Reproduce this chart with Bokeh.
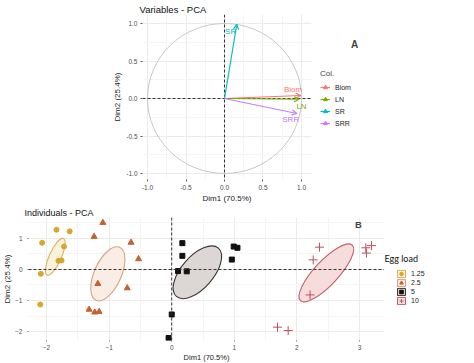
import math
from bokeh.plotting import figure
from bokeh.models import (Arrow, OpenHead, Label, Legend, LegendItem, Span,
                          FixedTicker, PrintfTickFormatter, Range1d)
from bokeh.layouts import row
from bokeh.embed import file_html
from bokeh.resources import INLINE

# ---------------- Data: Variables - PCA ----------------
var_names = ["Biom", "LN", "SR", "SRR"]
var_dim1 = [0.99, 0.97, 0.16, 0.94]
var_dim2 = [0.04, -0.01, 0.99, -0.20]
var_colors = ["#F8766D", "#7CAE00", "#00BFC4", "#C77CFF"]
lab_dim1 = [0.89, 1.00, 0.08, 0.86]
lab_dim2 = [0.12, -0.11, 0.89, -0.28]

# ---------------- Data: Individuals - PCA ----------------
egg_loads = ["1.25", "2.5", "5", "10"]
g125_x = [-2.07, -1.84, -1.63, -1.72, -1.81, -1.76, -2.09, -2.10]
g125_y = [0.86, 1.28, 1.23, 0.74, 0.28, 0.29, -0.14, -1.13]
g25_x = [-1.10, -1.24, -0.65, -0.53, -1.18, -0.71, -1.32, -1.23, -1.16]
g25_y = [1.51, 1.06, 0.87, 0.34, -0.46, -0.60, -1.29, -1.38, -1.36]
g5_x = [0.10, 0.17, 0.17, 0.24, 0.00, -0.05, 0.99, 1.05, 0.96]
g5_y = [-0.05, 0.85, 0.44, -0.06, -1.45, -2.21, 0.74, 0.70, 0.32]
g10_x = [2.36, 2.26, 2.21, 3.10, 3.19, 3.11, 1.69, 1.86]
g10_y = [0.72, 0.31, -0.82, 0.70, 0.77, 0.53, -1.86, -1.97]
# confidence ellipses: centre (data), axes (px), angle (deg)
ell_cx = [-1.86, -1.02, 0.41, 2.47]
ell_cy = [0.41, -0.14, -0.09, -0.11]
ell_major = [40, 58, 64, 76]
ell_minor = [12, 27, 32, 24]
ell_angle = [66, 66, 49, 47]

FONT = "Liberation Sans"
TICK_C = "#4D4D4D"


def style_axes(p, xt, xminor, yt, yminor, fmt=None, tick_out=2, std=1):
    p.xaxis.ticker = FixedTicker(ticks=xt, minor_ticks=xminor)
    p.yaxis.ticker = FixedTicker(ticks=yt, minor_ticks=yminor)
    if fmt:
        p.xaxis.formatter = PrintfTickFormatter(format=fmt)
        p.yaxis.formatter = PrintfTickFormatter(format=fmt)
    for ax in (p.xaxis, p.yaxis):
        ax.axis_line_color = None
        ax.major_tick_line_color = "#555555"
        ax.major_tick_out = tick_out
        ax.major_tick_in = 0
        ax.minor_tick_line_color = None
        ax.major_label_text_font_size = "6.5px"
        ax.major_label_text_color = TICK_C
        ax.major_label_text_font = FONT
        ax.major_label_standoff = std
        ax.axis_label_text_font_size = "8px"
        ax.axis_label_text_font_style = "normal"
        ax.axis_label_text_font = FONT
        ax.axis_label_text_color = "#222222"
        ax.axis_label_standoff = std
    p.xgrid.grid_line_color = "#EBEBEB"
    p.ygrid.grid_line_color = "#EBEBEB"
    p.xgrid.minor_grid_line_color = "#F5F5F5"
    p.ygrid.minor_grid_line_color = "#F5F5F5"
    p.outline_line_color = None


def side_fig(fw, fh, top, bottom, title_size):
    # legend strip; its ranges lie away from the data so only the legend shows
    q = figure(frame_width=fw, frame_height=fh, output_backend="svg",
               toolbar_location=None, x_range=Range1d(100, 101),
               y_range=Range1d(100, 101), x_axis_location=None,
               y_axis_location=None, min_border_left=0, min_border_right=0,
               min_border_top=top, min_border_bottom=bottom, title=" ")
    q.title.text_font_size = title_size
    q.title.standoff = 0
    q.outline_line_color = None
    q.grid.visible = False
    return q


# ---------------- Top panel ----------------
p1 = figure(frame_width=169, frame_height=165, output_backend="svg",
            toolbar_location=None,
            x_range=Range1d(-1.065, 1.13), y_range=Range1d(-1.08, 1.12),
            min_border_left=142, min_border_right=8, min_border_top=14,
            min_border_bottom=20, x_axis_label="Dim1 (70.5%)",
            y_axis_label="Dim2 (25.4%)", title="Variables - PCA")
p1.title.text_font_size = "9.5px"
p1.title.text_font = FONT
p1.title.text_font_style = "normal"
p1.title.text_color = "#111111"
p1.title.standoff = 0
p1.title.offset = -3
style_axes(p1, [-1, -0.5, 0, 0.5, 1], [-0.75, -0.25, 0.25, 0.75],
           [-1, -0.5, 0, 0.5, 1], [-0.75, -0.25, 0.25, 0.75], "%.1f",
           tick_out=2, std=1)
p1.ellipse(x=[0], y=[0], width=[2], height=[2], fill_color=None,
           line_color="#C8C8C8", line_width=1)
p1.add_layout(Span(location=0, dimension="width", line_color="#333333",
                   line_dash="3 2", line_width=1))
p1.add_layout(Span(location=0, dimension="height", line_color="#333333",
                   line_dash="3 2", line_width=1))

p1r = side_fig(146, 165, 14, 20, "9.5px")
items = []
for name, x, y, c, lx, ly in zip(var_names, var_dim1, var_dim2, var_colors,
                                 lab_dim1, lab_dim2):
    p1.add_layout(Arrow(x_start=0, y_start=0, x_end=x, y_end=y, line_color=c,
                        line_width=1.2,
                        end=OpenHead(size=5, line_color=c, line_width=1.2)))
    p1.text(x=[lx], y=[ly], text=[name], text_color=c, text_font_size="8px",
            text_align="center", text_baseline="middle",
            text_font={"value": FONT})
    r1 = p1r.line(x=[0, x], y=[0, y], line_color=c, line_width=1.2)
    r2 = p1r.scatter(x=[x], y=[y], marker="triangle", angle=-math.pi / 2,
                     size=5, fill_color=c, line_color=c)
    items.append(LegendItem(label=name, renderers=[r1, r2]))
leg1 = Legend(items=items, title="Col.", location=(1, 50),
              title_text_font_size="8px", title_text_font_style="normal",
              title_text_font=FONT, label_text_font=FONT,
              label_text_font_size="7px", label_text_color="#222222",
              glyph_width=10, glyph_height=12, label_height=12,
              spacing=0, padding=2, margin=0, label_standoff=5,
              title_standoff=3, border_line_color=None,
              background_fill_alpha=0)
p1r.add_layout(leg1)
p1r.add_layout(Label(x=35, y=135, x_units="screen", y_units="screen",
                     text="A", text_font_size="10px", text_font_style="bold",
                     text_font=FONT, text_align="center",
                     text_baseline="middle"))

# ---------------- Bottom panel ----------------
p2 = figure(frame_width=356, frame_height=123, output_backend="svg",
            toolbar_location=None,
            x_range=Range1d(-2.288, 3.399), y_range=Range1d(-2.29, 1.677),
            min_border_left=20, min_border_right=0, min_border_top=11,
            min_border_bottom=16, x_axis_label="Dim1 (70.5%)",
            y_axis_label="Dim2 (25.4%)", title="Individuals - PCA")
p2.title.text_font_size = "9px"
p2.title.text_font = FONT
p2.title.text_font_style = "normal"
p2.title.text_color = "#111111"
p2.title.standoff = 0
p2.title.offset = -4
style_axes(p2, [-2, -1, 0, 1, 2, 3], [-1.5, -0.5, 0.5, 1.5, 2.5],
           [-2, -1, 0, 1], [-1.5, -0.5, 0.5, 1.5], tick_out=1, std=0)
p2.yaxis.major_label_standoff = 2
p2.xaxis.axis_label_text_font_size = "7.5px"
ell_fill = ["#FBF1D8", "#FAEBE3", "#D6D0CC", "#F6D8D8"]
ell_line = ["#DDB062", "#D9A07F", "#3E3232", "#C06068"]
ell_alpha = [0.9, 0.9, 0.85, 0.9]
for i in range(4):
    p2.ellipse(x=[ell_cx[i]], y=[ell_cy[i]], width=[ell_major[i]],
               height=[ell_minor[i]], width_units="screen",
               height_units="screen", angle=[math.radians(ell_angle[i])],
               fill_color=ell_fill[i], fill_alpha=ell_alpha[i],
               line_color=ell_line[i], line_width=1.1)
p2.add_layout(Span(location=0, dimension="width", line_color="#333333",
                   line_dash="3 2", line_width=1))
p2.add_layout(Span(location=0, dimension="height", line_color="#333333",
                   line_dash="3 2", line_width=1))
groups = [(g125_x, g125_y, "circle", "#D8A62C", 5),
          (g25_x, g25_y, "triangle", "#C4622D", 6),
          (g5_x, g5_y, "square", "#111111", 5),
          (g10_x, g10_y, "cross", "#B8505A", 9)]
for gx, gy, mk, col, sz in groups:
    p2.scatter(gx, gy, marker=mk, size=sz, fill_color=col, line_color=col,
               line_width=1)
p2.add_layout(Label(x=330, y=116, x_units="screen", y_units="screen",
                    text="B", text_font_size="9.5px", text_font_style="bold",
                    text_font=FONT, text_align="center",
                    text_baseline="middle"))

p2r = side_fig(82, 123, 11, 16, "9px")
leg_items = []
key_size = [4, 5, 4, 7]
for i, lab in enumerate(egg_loads):
    rb = p2r.rect(x=[ell_cx[i]], y=[ell_cy[i]], width=1, height=1,
                  fill_color=ell_fill[i], line_color=ell_line[i],
                  line_width=1)
    gx, gy, mk, col, sz = groups[i]
    rm = p2r.scatter(gx, gy, marker=mk, size=key_size[i], fill_color=col,
                     line_color=col)
    leg_items.append(LegendItem(label=lab, renderers=[rb, rm]))
leg2 = Legend(items=leg_items, location=(12, 35), label_text_font=FONT,
              label_text_font_size="7px", label_text_color="#222222",
              glyph_width=10, glyph_height=9, label_height=9, spacing=0,
              padding=2, margin=0, label_standoff=5, border_line_color=None,
              background_fill_alpha=0)
p2r.add_layout(leg2)
p2r.add_layout(Label(x=0, y=82, x_units="screen", y_units="screen",
                     text="Egg load", text_font_size="9px",
                     text_font="Lato", text_color="#111111",
                     text_baseline="middle"))

open("out.html", "w").write(file_html([row(p1, p1r), row(p2, p2r)], INLINE))
